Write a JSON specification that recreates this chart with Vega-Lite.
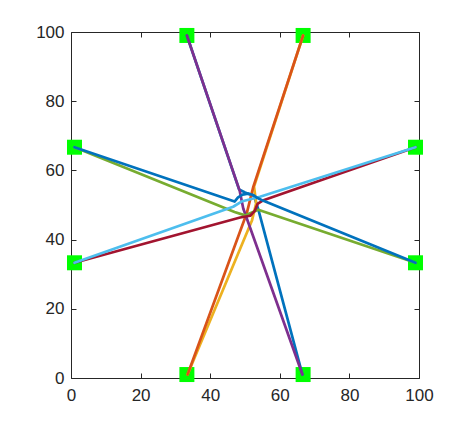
{
  "$schema": "https://vega.github.io/schema/vega-lite/v6.json",
  "width": 348,
  "height": 346,
  "autosize": "none",
  "padding": {"left": 71, "top": 32, "right": 55, "bottom": 49},
  "background": "white",
  "config": {
    "view": {"stroke": null},
    "axis": {
      "grid": false,
      "domainColor": "#262626",
      "domainWidth": 1,
      "tickColor": "#262626",
      "tickSize": -5,
      "tickWidth": 1,
      "labelColor": "#262626",
      "labelFont": "Liberation Sans",
      "labelFontSize": 17,
      "title": null
    }
  },
  "datasets": {
    "markers": [
      {"x": 33.3, "y": 99}, {"x": 66.7, "y": 99},
      {"x": 1, "y": 66.7}, {"x": 99, "y": 66.7},
      {"x": 1, "y": 33.3}, {"x": 99, "y": 33.3},
      {"x": 33.3, "y": 1}, {"x": 66.7, "y": 1}
    ],
    "paths": [
      {"s": "a1", "o": 1, "x": 33.3, "y": 99},
      {"s": "a1", "o": 2, "x": 48.3, "y": 54.5},
      {"s": "a1", "o": 3, "x": 50, "y": 53.6},
      {"s": "a1", "o": 4, "x": 52.6, "y": 52.6},
      {"s": "a1", "o": 5, "x": 53.8, "y": 48.8},
      {"s": "a1", "o": 6, "x": 66.5, "y": 1},

      {"s": "a2", "o": 1, "x": 66.7, "y": 99},
      {"s": "a2", "o": 2, "x": 52.6, "y": 55.3},
      {"s": "a2", "o": 3, "x": 53.2, "y": 50.5},
      {"s": "a2", "o": 4, "x": 52, "y": 45.5},
      {"s": "a2", "o": 5, "x": 33.5, "y": 1},

      {"s": "a3", "o": 1, "x": 66.7, "y": 99},
      {"s": "a3", "o": 2, "x": 52.4, "y": 55.3},
      {"s": "a3", "o": 3, "x": 50.5, "y": 47.6},
      {"s": "a3", "o": 4, "x": 33.5, "y": 1},

      {"s": "a4", "o": 1, "x": 33.3, "y": 99},
      {"s": "a4", "o": 2, "x": 48.5, "y": 54},
      {"s": "a4", "o": 3, "x": 49.5, "y": 49},
      {"s": "a4", "o": 4, "x": 66.5, "y": 1},

      {"s": "a5", "o": 1, "x": 1, "y": 66.7},
      {"s": "a5", "o": 2, "x": 47, "y": 48},
      {"s": "a5", "o": 3, "x": 50, "y": 47},
      {"s": "a5", "o": 4, "x": 53.8, "y": 48.6},
      {"s": "a5", "o": 5, "x": 99, "y": 33.3},

      {"s": "a6", "o": 1, "x": 1, "y": 33.3},
      {"s": "a6", "o": 2, "x": 48.6, "y": 46.4},
      {"s": "a6", "o": 3, "x": 51.5, "y": 46.9},
      {"s": "a6", "o": 4, "x": 52.8, "y": 48.3},
      {"s": "a6", "o": 5, "x": 53.6, "y": 50.3},
      {"s": "a6", "o": 6, "x": 55.3, "y": 51.4},
      {"s": "a6", "o": 7, "x": 99, "y": 66.7},

      {"s": "a7", "o": 1, "x": 1, "y": 33.3},
      {"s": "a7", "o": 2, "x": 46.6, "y": 49.5},
      {"s": "a7", "o": 3, "x": 49, "y": 51},
      {"s": "a7", "o": 4, "x": 54.3, "y": 52.4},
      {"s": "a7", "o": 5, "x": 99, "y": 66.7},

      {"s": "a8", "o": 1, "x": 1, "y": 66.7},
      {"s": "a8", "o": 2, "x": 47, "y": 51},
      {"s": "a8", "o": 3, "x": 48, "y": 52.2},
      {"s": "a8", "o": 4, "x": 49.3, "y": 53},
      {"s": "a8", "o": 5, "x": 50.9, "y": 53.3},
      {"s": "a8", "o": 6, "x": 52.4, "y": 52.9},
      {"s": "a8", "o": 7, "x": 53.6, "y": 52},
      {"s": "a8", "o": 8, "x": 55.3, "y": 51.2},
      {"s": "a8", "o": 9, "x": 99, "y": 33.3}
    ]
  },
  "layer": [
    {
      "data": {"name": "markers"},
      "mark": {"type": "point", "shape": "square", "filled": true, "size": 225, "opacity": 1, "color": "#00FF00"},
      "encoding": {
        "x": {"field": "x", "type": "quantitative", "scale": {"domain": [0, 100], "nice": false, "zero": false},
              "axis": {"orient": "bottom", "values": [0, 20, 40, 60, 80, 100], "labelPadding": 14, "labelFlush": false}},
        "y": {"field": "y", "type": "quantitative", "scale": {"domain": [0, 100], "nice": false, "zero": false},
              "axis": {"orient": "left", "values": [0, 20, 40, 60, 80, 100], "labelPadding": 12}}
      }
    },
    {
      "data": {"name": "paths"},
      "mark": {"type": "line", "strokeWidth": 2.7, "strokeJoin": "round", "strokeCap": "round", "interpolate": "linear"},
      "encoding": {
        "x": {"field": "x", "type": "quantitative",
              "axis": {"orient": "top", "values": [0, 20, 40, 60, 80, 100], "labels": false}},
        "y": {"field": "y", "type": "quantitative",
              "axis": {"orient": "right", "values": [0, 20, 40, 60, 80, 100], "labels": false}},
        "order": {"field": "o"},
        "color": {"field": "s", "type": "nominal", "legend": null,
                  "scale": {"domain": ["a1", "a2", "a3", "a4", "a5", "a6", "a7", "a8"],
                            "range": ["#0072BD", "#EDB120", "#D95319", "#7E2F8E", "#77AC30", "#A2142F", "#4DBEEE", "#0072BD"]}}
      }
    }
  ],
  "resolve": {"axis": {"x": "independent", "y": "independent"}}
}
